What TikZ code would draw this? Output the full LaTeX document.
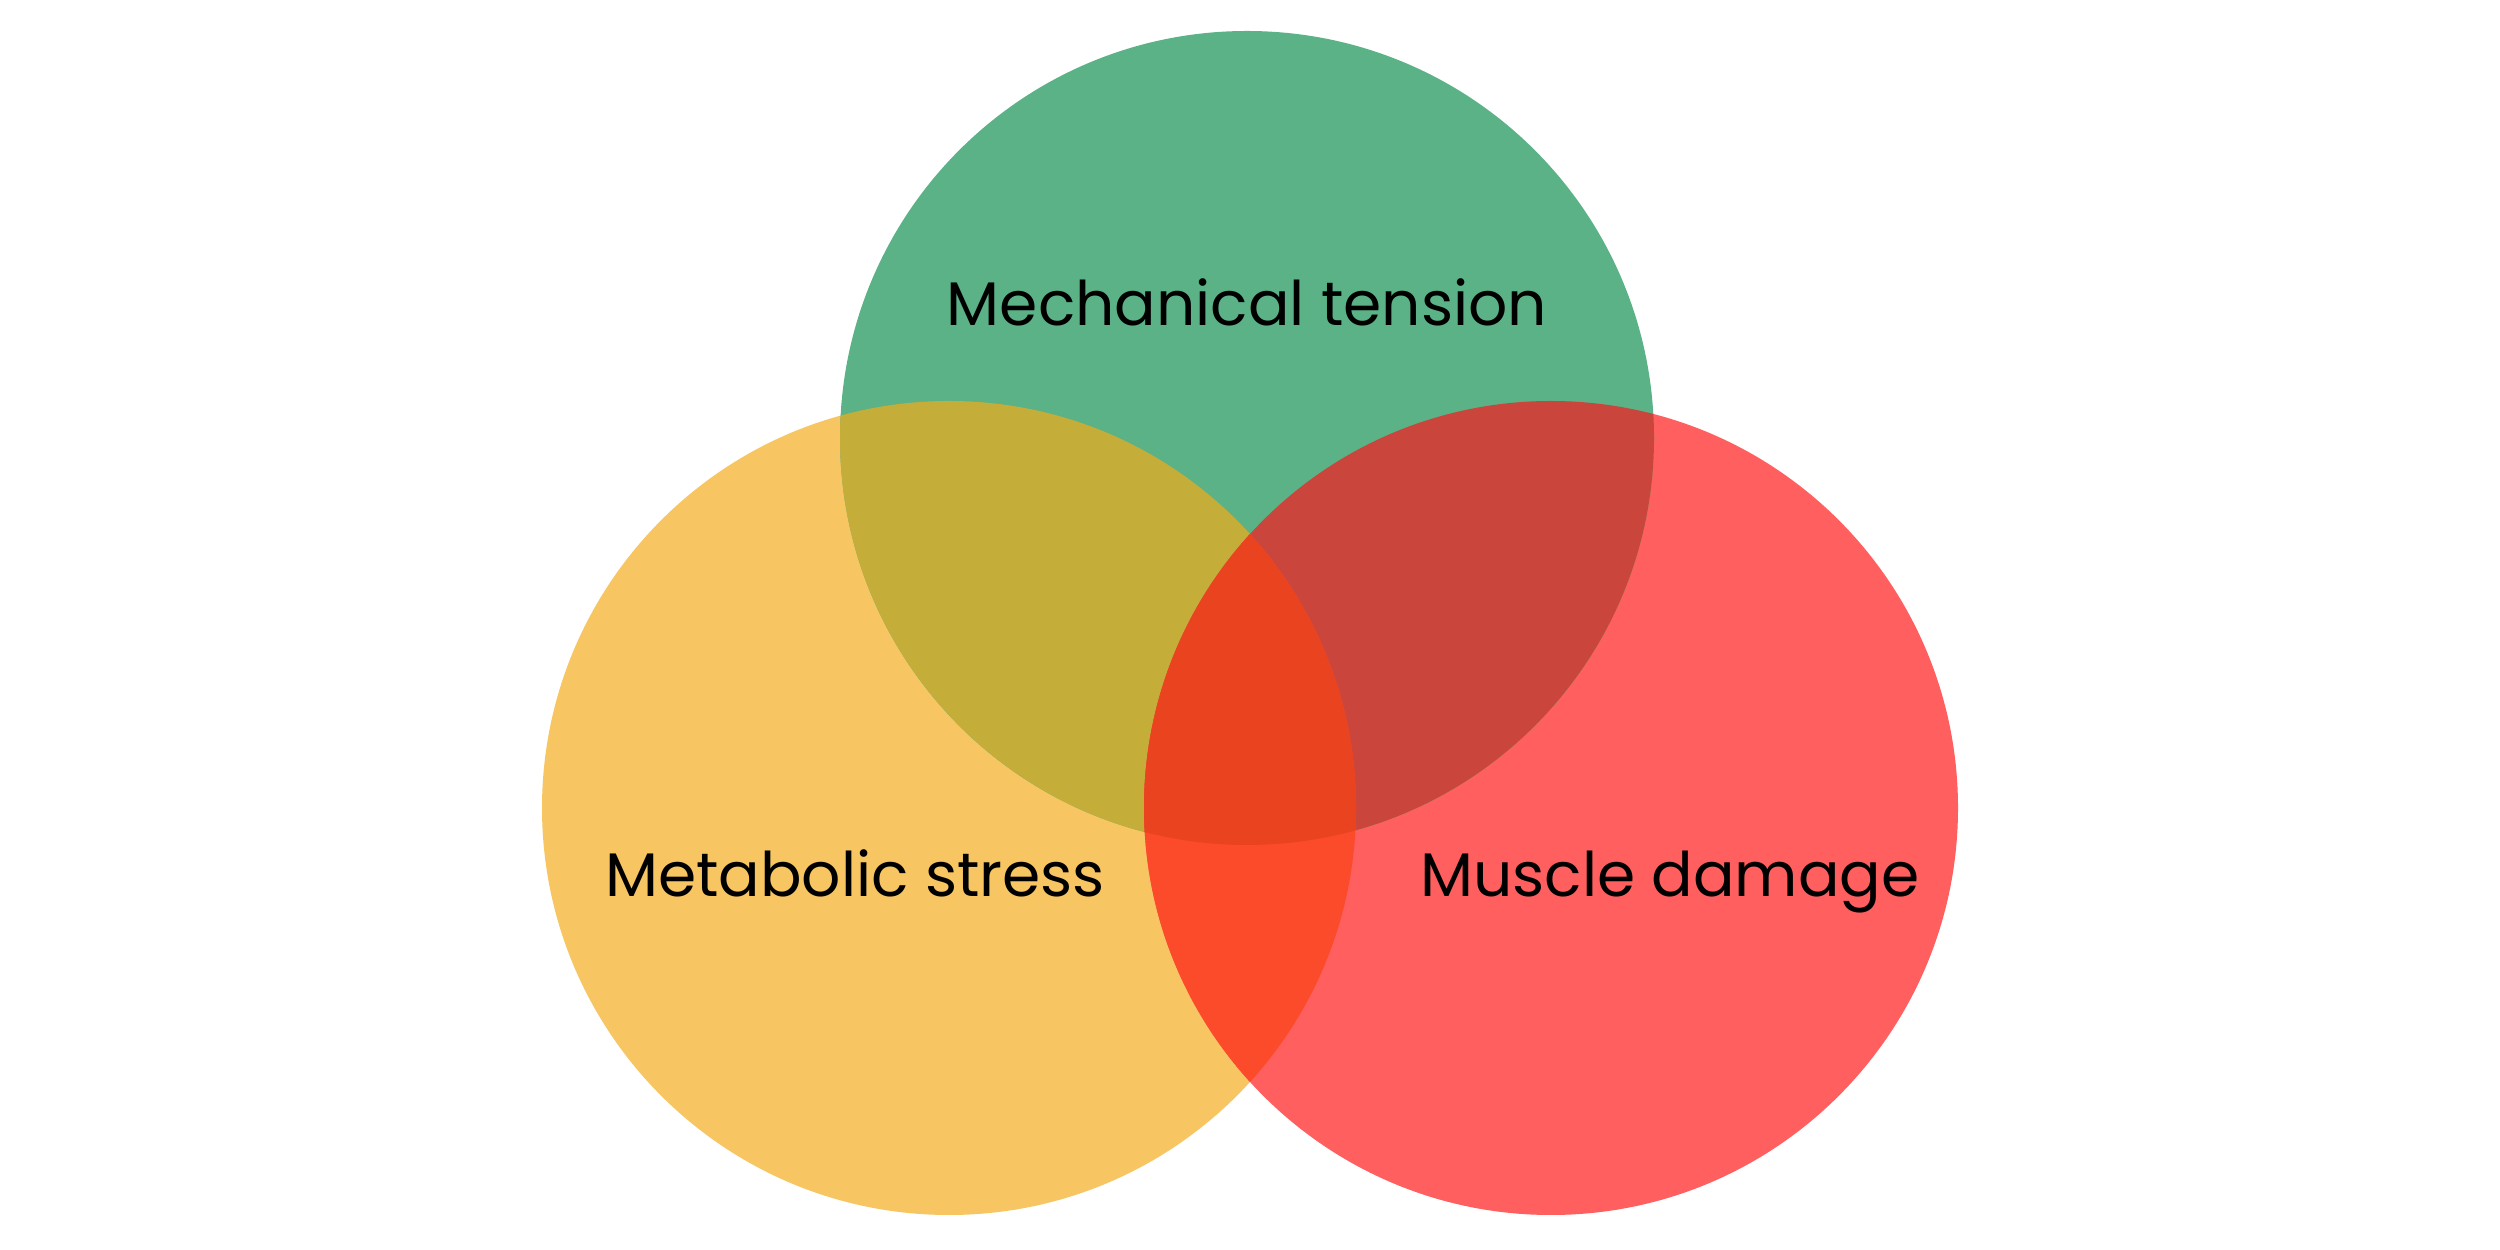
\documentclass[tikz,border=0pt]{standalone}
\usepackage{fontspec}
\setmainfont{Poppins}
\definecolor{tensiongreen}{HTML}{5BB287}
\definecolor{stressyellow}{HTML}{F7C562}
\definecolor{damagered}{HTML}{FF5F5F}
\definecolor{greenyellow}{HTML}{C5AD3A}
\definecolor{greenred}{HTML}{CA453B}
\definecolor{yellowred}{HTML}{FC4B2B}
\definecolor{allthree}{HTML}{E9441F}

\begin{document}
\begin{tikzpicture}[
    label/.style={font=\fontsize{17.5}{20}\selectfont, text=black, anchor=base, inner sep=0pt},
    rad/.store in=\rad, rad=4.07
]
    % Page frame
    \fill[white] (0,0) rectangle (25,12.5);
    \useasboundingbox (0,0) rectangle (25,12.5);

    % Circle centres
    \coordinate (tens) at (12.47, 8.12);
    \coordinate (meta) at (9.49, 4.42);
    \coordinate (dmg) at (15.51, 4.42);

    % Single circles
    \fill[stressyellow] (meta) circle (\rad);
    \fill[damagered] (dmg) circle (\rad);
    \fill[tensiongreen] (tens) circle (\rad);

    % Pairwise overlaps
    \begin{scope}
        \clip (tens) circle (\rad);
        \fill[greenyellow] (meta) circle (\rad);
        \fill[greenred] (dmg) circle (\rad);
    \end{scope}
    \begin{scope}
        \clip (meta) circle (\rad);
        \fill[yellowred] (dmg) circle (\rad);
    \end{scope}

    % Centre overlap
    \begin{scope}
        \clip (tens) circle (\rad);
        \clip (meta) circle (\rad);
        \fill[allthree] (dmg) circle (\rad);
    \end{scope}

    % Labels
    \node[label] (tenslbl) at (12.47, 9.24) {Mechanical tension};
    \node[label] (metalbl) at (8.55, 3.53) {Metabolic stress};
    \node[label] (dmglbl) at (16.70, 3.53) {Muscle damage};
\end{tikzpicture}
\end{document}
